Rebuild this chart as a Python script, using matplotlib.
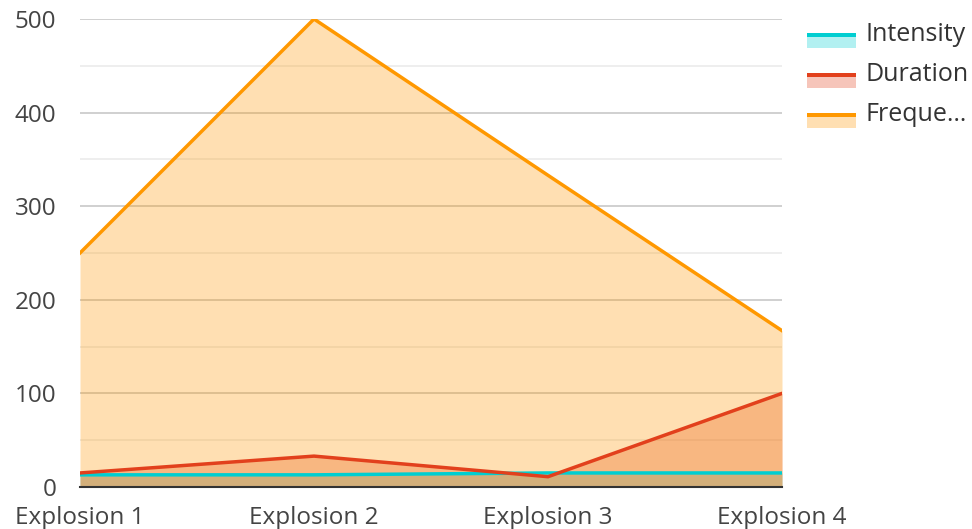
import matplotlib
matplotlib.use("Agg")
import matplotlib.pyplot as plt
from matplotlib.patches import Rectangle
from matplotlib.legend_handler import HandlerBase
import numpy as np

categories = ["Explosion 1", "Explosion 2", "Explosion 3", "Explosion 4"]
intensity = [13, 13, 15, 15]
duration = [15, 33, 11, 100]
frequency = [250, 500, 333, 167]
series_names = ["Intensity", "Duration", "Frequency"]
colors = ["#00CED1", "#E2401C", "#FF9800"]

plt.rcParams['font.family'] = ['Open Sans', 'DejaVu Sans']

fig = plt.figure(figsize=(9.72, 5.29), dpi=100)
ax = fig.add_axes([80/972, 1-487/529, (782-80)/972, (487-19)/529])

x = np.arange(len(categories))
for vals, c in zip([intensity, duration, frequency], colors):
    ax.fill_between(x, 0, vals, color=c, alpha=0.3, linewidth=0, zorder=2)
for vals, c in zip([intensity, duration, frequency], colors):
    ax.plot(x, vals, color=c, linewidth=2.5, zorder=4, solid_joinstyle='miter')

ax.set_xlim(0, 3)
ax.set_ylim(0, 500)
ax.set_yticks([0, 100, 200, 300, 400, 500])
ax.set_yticks([50, 150, 250, 350, 450], minor=True)
ax.set_xticks(x)
ax.set_xticklabels(categories)
ax.grid(axis='y', which='major', color='#c8c8c8', linewidth=1.2, zorder=1)
ax.grid(axis='y', which='minor', color='#ebebeb', linewidth=1.2, zorder=1)
ax.grid(axis='x', visible=False)
for s in ['top', 'right', 'left']:
    ax.spines[s].set_visible(False)
ax.spines['bottom'].set_color('#333333')
ax.spines['bottom'].set_linewidth(1.5)
ax.spines['bottom'].set_zorder(5)
ax.tick_params(axis='both', which='both', length=0, labelsize=17.5, labelcolor='#444444')
ax.tick_params(axis='y', pad=17)
ax.tick_params(axis='x', pad=13.5)


class AreaHandler(HandlerBase):
    def __init__(self, color):
        super().__init__()
        self.color = color

    def create_artists(self, legend, orig_handle, xdescent, ydescent, width, height, fontsize, trans):
        y0 = -ydescent - 6
        r = Rectangle((-xdescent, y0), width, height * 0.75, facecolor=self.color,
                      alpha=0.3, edgecolor='none', transform=trans)
        l = Rectangle((-xdescent, y0 + height * 0.75), width, height * 0.25,
                      facecolor=self.color, edgecolor='none', transform=trans)
        return [r, l]


handles = [Rectangle((0, 0), 1, 1) for _ in colors]
labels = ["Intensity", "Duration", "Freque\u2026"]
leg = fig.legend(handles, labels, loc='upper left', bbox_to_anchor=(797/972, 1-12/529),
                 frameon=False, fontsize=18, handlelength=1.96, handleheight=0.55,
                 labelspacing=0.6, handletextpad=0.36, borderaxespad=0,
                 handler_map={h: AreaHandler(c) for h, c in zip(handles, colors)})
for t in leg.get_texts():
    t.set_color('#333333')

fig.savefig("out.png", dpi=100)
